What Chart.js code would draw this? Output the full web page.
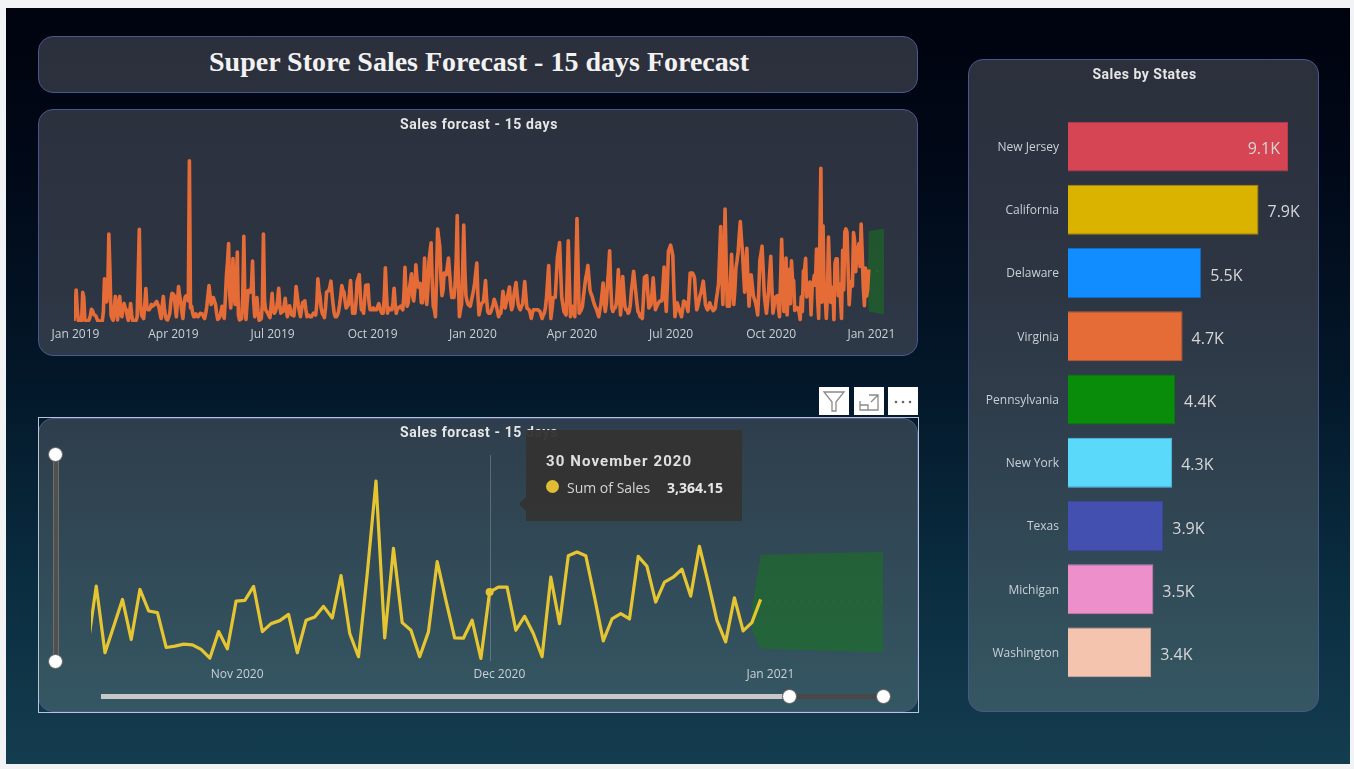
<!DOCTYPE html>
<html>
<head>
<meta charset="utf-8">
<title>Super Store Sales Forecast</title>
<script src="https://cdn.jsdelivr.net/npm/chart.js@4"></script>
<style>
    html, body { margin: 0; padding: 0; background: #f1f3f4; overflow: hidden; }
    #page {
        position: absolute; left: 6px; top: 8px; width: 1344px; height: 756px;
        background: linear-gradient(180deg, #00030f 0%, #010817 20%, #03182a 50%, #0a2c3f 75%, #143d4f 100%);
    }
    .panel {
        position: absolute; box-sizing: border-box;
        background: linear-gradient(180deg, #2b2f3b 0%, #2d3442 35%, #2f3f4d 57%, #345662 91%, #365a66 100%) fixed;
        border: 1px solid #4b5590; border-radius: 15px;
    }
    .panel canvas { position: absolute; left: -1px; top: -1px; }
    .title {
        position: absolute; left: 2px; right: 0; text-align: center;
        font: 700 14px Roboto, sans-serif; letter-spacing: 0.6px; color: #e6e6e6;
    }
    #heading {
        position: absolute; left: 2px; right: 0; top: 9px; text-align: center;
        font: 700 28px "Liberation Serif", serif; color: #f2f2f2;
    }
    #selected { position: absolute; left: 32px; top: 409px; width: 879px; height: 294px; border: 1px solid #b8c6d2; pointer-events: none; }
    .icon { position: absolute; top: 379px; width: 30px; height: 28px; background: #fff; }
    .track { position: absolute; }
    .knob { position: absolute; width: 13px; height: 13px; background: #fff; border: 1px solid #605e5c; border-radius: 50%; }
    #tip {
        position: absolute; left: 520px; top: 422px; width: 216px; height: 91px;
        background: rgba(51, 51, 51, 0.96); color: #d4d4d4; font-family: "Open Sans", sans-serif;
    }
    #tip::before {
        content: ''; position: absolute; left: -7px; top: 67px; width: 0; height: 0;
        border-top: 7px solid transparent; border-bottom: 7px solid transparent; border-right: 7px solid #333;
    }
    #tip .when { position: absolute; left: 20px; top: 22px; font: 700 15px Roboto, sans-serif; letter-spacing: 1.1px; color: #e0e0e0; }
    #tip .dot { position: absolute; left: 20px; top: 50px; width: 13px; height: 13px; border-radius: 50%; background: #dfbe33; }
    #tip .name { position: absolute; left: 41px; top: 48px; font-size: 14px; }
    #tip .val { position: absolute; left: 141px; top: 48px; font-size: 14px; font-weight: 700; color: #e6e6e6; }
</style>
</head>
<body>
<div id="page">
    <div class="panel" style="left:32px;top:28px;width:880px;height:57px">
        <div id="heading">Super Store Sales Forecast - 15 days Forecast</div>
    </div>

    <div class="panel" style="left:32px;top:101px;width:880px;height:247px">
        <canvas id="topChart" width="880" height="247"></canvas>
        <div class="title" style="top:6px">Sales forcast - 15 days</div>
    </div>

    <div class="panel" style="left:32px;top:410px;width:880px;height:294px">
        <canvas id="zoomChart" width="880" height="294"></canvas>
        <div class="title" style="top:5px">Sales forcast - 15 days</div>
    </div>
    <div id="selected"></div>

    <div class="panel" style="left:962px;top:51px;width:351px;height:653px">
        <canvas id="statesChart" width="351" height="653"></canvas>
        <div class="title" style="top:6px;letter-spacing:0.5px">Sales by States</div>
    </div>

    <!-- VISUAL HEADER ICONS -->
    <div class="icon" style="left:813px">
        <svg width="30" height="28"><path d="M5 5 H25 L17 15 V24 H13 V15 Z" fill="none" stroke="#8a8a8a" stroke-width="1.3"/></svg>
    </div>
    <div class="icon" style="left:848px">
        <svg width="30" height="28"><path d="M6 14 V23 H24 V8 H15 M6 18 H14 V23 M17 15 L24 8 M19 8 H24 V13" fill="none" stroke="#8a8a8a" stroke-width="1.3"/></svg>
    </div>
    <div class="icon" style="left:882px;width:30px">
        <svg width="30" height="28"><circle cx="8" cy="15" r="1.3" fill="#666"/><circle cx="15" cy="15" r="1.3" fill="#666"/><circle cx="22" cy="15" r="1.3" fill="#666"/></svg>
    </div>

    <!-- ZOOM SLIDERS -->
    <div class="track" style="left:47px;top:446px;width:4px;height:207px;background:#505050;border-left:1px solid #6e6e6e;border-right:1px solid #6e6e6e"></div>
    <div class="knob" style="left:42px;top:439px"></div>
    <div class="knob" style="left:42px;top:646px"></div>
    <div class="track" style="left:95px;top:686px;width:688px;height:5px;background:#c8c8c8"></div>
    <div class="track" style="left:783px;top:686px;width:94px;height:5px;background:#484848"></div>
    <div class="knob" style="left:776px;top:681px"></div>
    <div class="knob" style="left:870px;top:681px"></div>

    <div id="tip">
        <div class="when">30 November 2020</div>
        <div class="dot"></div>
        <div class="name">Sum of Sales</div>
        <div class="val">3,364.15</div>
    </div>
</div>

<script>
// TOP CHART, SALES ON EVEN DAYS COUNTED FROM 1 JAN 2019
const evenA = [60,1830,80,200,1690,100,60,150,730,450,350,60,60,70,2460,1150,5020,400,100,1460,120,1460,300,1060,700,90,1060,70,60,300,5290,400,200,1905,700,800,900,1000,1170,850,200,1460,300,120,500,1640,1500,300,2020,1200]
const evenB = [200,1400,1500,9200,900,300,460,300,500,460,200,900,2080,1000,1400,1000,150,300,900,200,2650,4480,800,3620,1000,4000,120,200,4900,150,1790,1700,3480,300,1400,100,200,5020,700,500,250,1640,500,800,1930,500,600,1350,300,925]
const evenC = [400,350,2020,1000,300,1100,1210,300,350,300,500,400,2460,1440,500,250,1700,1800,2330,1000,300,400,1000,2080,1700,800,1000,2370,500,500,2300,2700,700,500,2100,2120,700,700,700,700,1050,600,500,3100,500,700,700,1930,500,800]
const evenD = [900,700,3120,900,1900,2750,1200,3270,2000,2200,1100,3650,1000,3420,4520,900,300,5310,4290,1500,2800,2700,3650,2000,1500,2100,6080,300,1000,5540,1500,1000,900]
const evenE = [1500,2230,3370,400,1000,1150,2370,600,500,800,1300,900,300,500,1750,800,1400,2000,700,1500,2250,1000,700,1000,2310,800,700,200,700,700,700,600,200,500,1400,3220,200,1400,1400,3700,4540,1400,600,400,4640,300,900,300,5910,500]
const evenF = [700,1500,2500,3230,1800,1450,1000,700,300,1000,2230,600,2140,4060,800,800,1000,3000,400,2600,900,700,600,1800,2900,1700,600,300,200,2550,2650,800,1000,2520,700,1000,1200,1200,3140,600,4060,4390,3800,300,1100,700,300,1200,1100,600]
const evenG = [2800,2800,2500,700,1200,1700,2330,1000,700,1100,800,700,1300,2170,5450,1000,6450,900,900,3870,1000,3100,4000,5730,4000,1700,4215,900,2700,1500,1100,400,3520,4330,1600,500,1800,3750,500,1400,1500,300,4720,600]

// TOP CHART, SALES ON THE ODD DAYS BETWEEN THEM
const oddA = [900,700,60,70,1400,80,60,350,650,400,200,60,60,600,1900,1800,3000,200,800,700,900,500,700,800,300,500,400,60,80,2800,1100,300,1000,800,700,1000,950,1100,1000,500,900,800,150,300,1200,1600,900,1100,1500,600]
const oddB = [900,1500,1200,800,500,300,400,400,480,300,500,1500,1500,1200,1200,500,200,600,500,1300,3400,1600,1800,1500,2000,400,150,1500,1000,1100,1800,2000,1200,900,600,120,1000,1200,600,350,900,700,600,1200,1000,700,900,700,600,700]
const oddC = [500,1000,1500,600,700,1150,700,400,300,400,450,1000,1800,800,400,800,1750,2000,1600,500,300,600,1500,1800,1200,900,1600,1300,600,1100,2500,1500,700,1300,2100,1100,700,800,700,900,800,500,1400,1600,800,700,1100,1100,750,850]
const oddD = [800,1500,1500,1100,2300,1500,1800,2500,2100,1100,1800,1900,1800,4000,2300,700,2600,4800,2500,1800,2750,3200,2800,1400,1400,3500,2500,700,3000,3000,1200,950,1200]
const oddE = [1800,2800,1500,700,1100,1700,1300,500,600,1000,1100,600,500,1000,1300,1100,1700,1100,900,1900,1600,800,900,1600,1500,750,500,500,700,700,650,400,400,800,2300,1600,700,1400,2500,4100,2900,1000,500,2400,2300,600,700,3000,3200,600]
const oddF = [900,2000,2800,2500,1600,1200,850,500,700,1600,1200,1100,3000,2100,600,800,1800,1500,1300,1700,700,500,1000,2300,2300,1100,500,300,1300,2600,1700,900,1700,1600,850,1100,1200,2100,1700,2100,4200,4100,1900,700,900,500,700,1150,850,1700]
const oddG = [2800,2700,1500,900,1500,2000,1700,800,800,900,650,800,1700,3800,2800,3300,3500,900,2400,2100,1800,3500,4900,4800,2800,3000,2500,1800,2100,1300,800,1800,3900,3000,1000,1100,2800,2000,900,1450,850,2400,2600]

const evenSales = [...evenA, ...evenB, ...evenC, ...evenD, ...evenE, ...evenF, ...evenG]
const oddSales = [...oddA, ...oddB, ...oddC, ...oddD, ...oddE, ...oddF, ...oddG]

// DAILY SALES FROM 15 OCT 2020 TO 31 DEC 2020
const zoomSales = [644,3652,402,1695,3005,1048,3490,2439,2358,660,725,822,790,563,143,1436,596,
    2924,2956,3636,1436,1824,1970,2277,402,1986,2148,2665,2099,4169,1339,207,4250,8778,1129,5495,1873,1501,207,1420,4848,2956,1129,1113,1986,126,3364.15,
    3603,3603,1500,2180,1339,207,4088,1824,5139,5317,5139,3117,983,2050,2309,2050,5106,4621,2875,3845,4088,4476,3166,5592,3845,1986,935,3085,1468,1872,3004]

// FORECAST BAND
const forecastDates = ['2020-12-30', '2020-12-31', '2021-01-14']
const forecastUpper = [2551, 5187, 5333]
const forecastLower = [1500, 595, 417]
const forecastMid = [null, 2891, 2891]

// AXIS LABELS
const topTickDates = ['2019-01-01', '2019-04-01', '2019-07-01', '2019-10-01', '2020-01-01', '2020-04-01', '2020-07-01', '2020-10-01', '2021-01-01']
const topTickLabels = ['Jan 2019', 'Apr 2019', 'Jul 2019', 'Oct 2019', 'Jan 2020', 'Apr 2020', 'Jul 2020', 'Oct 2020', 'Jan 2021']
const zoomTickDates = ['2020-11-01', '2020-12-01', '2021-01-01']
const zoomTickLabels = ['Nov 2020', 'Dec 2020', 'Jan 2021']

// SALES BY STATE
const states = ['New Jersey', 'California', 'Delaware', 'Virginia', 'Pennsylvania', 'New York', 'Texas', 'Michigan', 'Washington']
const stateSales = [9100, 7880, 5510, 4740, 4430, 4310, 3940, 3530, 3440]
const stateColors = ['#D64554', '#D9B300', '#118DFF', '#E66C37', '#098C09', '#5BD9FB', '#4350AF', '#EC8FCB', '#F4C4AE']
const stateBorders = ['#B83C4B', '#A88A00', '#0F6FC6', '#C25A2E', '#0A7A0A', '#4FC4E4', '#3B4699', '#D07DB2', '#DDB09B']

//DAYS SINCE 1 JAN 2019
const dayOf = text => (Date.parse(text) - Date.parse('2019-01-01')) / 864e5

const tickFont = { family: '"Open Sans", sans-serif', size: 12 }
const forecastGreen = 'rgba(22, 120, 26, 0.5)'

//BUILD ONE SALES CHART: THE LINE PLUS THE FORECAST BAND
function salesChart(id, points, line, xRange, yMax, padding, axisHeight, ticks, labels, extra) {
    const band = values => forecastDates.map((d, i) => ({ x: dayOf(d), y: values[i] }))
    const tickDays = ticks.map(dayOf)

    return new Chart(document.querySelector(id), {
        type: 'line',
        data: {
            datasets: [
                { data: points, borderColor: line.color, borderWidth: line.width, borderJoinStyle: 'round', pointRadius: extra.pointRadius || 0, pointBackgroundColor: line.color, pointBorderWidth: 0 },
                { data: band(forecastUpper), borderWidth: 0, pointRadius: 0, backgroundColor: forecastGreen, fill: '+1' },
                { data: band(forecastLower), borderWidth: 0, pointRadius: 0 },
                { data: band(forecastMid), borderColor: '#1f9a3c', borderWidth: 1, borderDash: [1, 7], pointRadius: 0 }
            ]
        },
        options: {
            responsive: false,
            animation: false,
            layout: { padding },
            plugins: { legend: { display: false }, tooltip: { enabled: false } },
            scales: {
                x: {
                    type: 'linear',
                    min: xRange[0],
                    max: xRange[1],
                    grid: { display: false, drawTicks: false },
                    border: { display: false },
                    afterBuildTicks: axis => { axis.ticks = tickDays.map(value => ({ value })) },
                    afterFit: axis => { axis.height = axisHeight },
                    ticks: {
                        color: '#c9d0d6',
                        font: tickFont,
                        padding: extra.tickPadding,
                        labelOffset: extra.labelOffset,
                        maxRotation: 0,
                        autoSkip: false,
                        callback: value => labels[tickDays.indexOf(value)]
                    }
                },
                y: { display: false, min: 0, max: yMax }
            }
        },
        plugins: extra.plugins || []
    })
}

//TOP CHART, WHOLE PERIOD
const zoomStart = dayOf('2020-10-15')
const zoomPoints = zoomSales.map((y, i) => ({ x: zoomStart + i, y }))
const topPoints = [
    ...evenSales.map((y, i) => ({ x: i * 2, y })),
    ...oddSales.map((y, i) => ({ x: i * 2 + 1, y }))
].filter(p => p.x < zoomStart).sort((a, b) => a.x - b.x).concat(zoomPoints)

salesChart('#topChart', topPoints, { color: '#E66C37', width: 3.6 }, [0, 744], 10164,
    { left: 36, right: 34, top: 35, bottom: 0 }, 34, topTickDates, topTickLabels, { tickPadding: 5, labelOffset: 1.5 })

//BOTTOM CHART, ZOOMED, WITH THE HOVER LINE ON 30 NOV
const hoverDay = dayOf('2020-11-30')
const hoverLine = {
    id: 'hoverLine',
    beforeDatasetsDraw(chart) {
        const { ctx, chartArea, scales } = chart
        const x = Math.round(scales.x.getPixelForValue(hoverDay)) + 0.5
        ctx.save()
        ctx.strokeStyle = 'rgba(200, 200, 200, 0.3)'
        ctx.lineWidth = 1
        ctx.beginPath()
        ctx.moveTo(x, chartArea.top)
        ctx.lineTo(x, chartArea.bottom)
        ctx.stroke()
        ctx.restore()
    }
}
salesChart('#zoomChart', zoomPoints, { color: '#E6C532', width: 3.2 }, [653.4, 744], 10050,
    { left: 53, right: 35, top: 37, bottom: 0 }, 51, zoomTickDates, zoomTickLabels,
    { tickPadding: 6, labelOffset: 1, plugins: [hoverLine], pointRadius: c => c.parsed.x === hoverDay ? 4 : 0 })

//STATE BARS WITH THEIR VALUE LABELS
const barLabels = {
    id: 'barLabels',
    afterDatasetsDraw(chart) {
        const { ctx } = chart
        ctx.save()
        ctx.font = '16px "Open Sans", sans-serif'
        ctx.textBaseline = 'middle'
        chart.getDatasetMeta(0).data.forEach((bar, i) => {
            const text = (stateSales[i] / 1000).toFixed(1) + 'K'
            const inside = i === 0
            ctx.textAlign = inside ? 'right' : 'left'
            ctx.fillStyle = '#d6d6d6'
            ctx.fillText(text, inside ? bar.x - 8 : bar.x + 9, bar.y + 3)
        })
        ctx.restore()
    }
}
new Chart(document.querySelector('#statesChart'), {
    type: 'bar',
    data: {
        labels: states,
        datasets: [{
            data: stateSales,
            backgroundColor: stateColors,
            borderColor: stateBorders,
            borderWidth: 1,
            barPercentage: 0.79,
            categoryPercentage: 1
        }]
    },
    options: {
        indexAxis: 'y',
        responsive: false,
        animation: false,
        layout: { padding: { left: 0, right: 9, top: 56, bottom: 28 } },
        plugins: { legend: { display: false }, tooltip: { enabled: false } },
        scales: {
            x: { display: false, min: 0, max: 10010 },
            y: {
                grid: { display: false, drawTicks: false },
                border: { display: false },
                afterFit: axis => { axis.width = 100 },
                ticks: { color: '#c9d0d6', font: tickFont, padding: 9, labelOffset: 1 }
            }
        }
    },
    plugins: [barLabels]
})
</script>
</body>
</html>
